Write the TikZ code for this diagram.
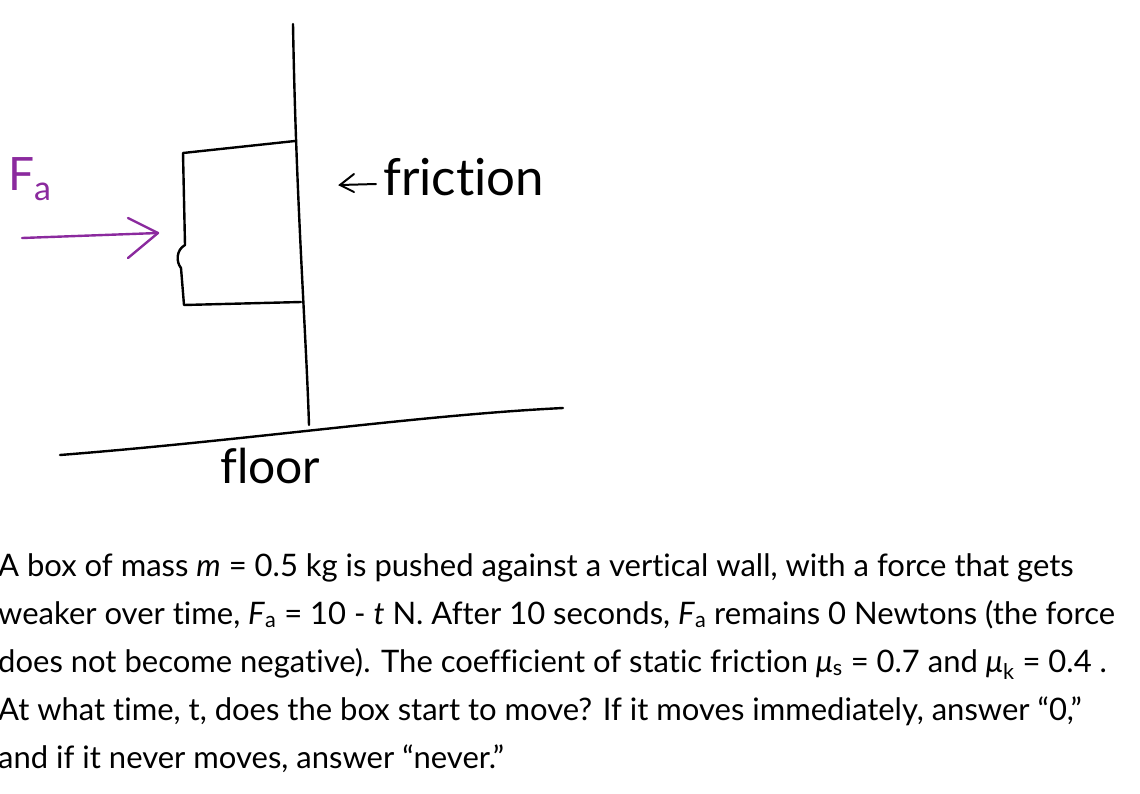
\documentclass[tikz,border=0pt]{standalone}
\usepackage{fontspec}
\setmainfont[Ligatures=CommonOff]{Lato}
\usepackage{xcolor}
\definecolor{purp}{HTML}{8B2A9E}
\begin{document}
\begin{tikzpicture}[x=1pt,y=-1pt,
  sketch/.style={line width=2.4pt,line cap=round,line join=round,black},
  hand/.style={font=\fontsize{46}{46}\selectfont,anchor=base west,inner sep=0pt},
  para/.style={font=\fontsize{31}{31}\selectfont,anchor=base west,inner sep=0pt}]
\useasboundingbox (0,0) rectangle (1140,793);
% wall and floor
\coordinate (wt) at (293,24); \coordinate (wb) at (309,425);
\draw[sketch] (wt) .. controls (296,200) and (306,330) .. (wb);
\coordinate (fl) at (60,455); \coordinate (fr) at (563,408);
\draw[sketch] (fl) .. controls (250,440) and (420,415) .. (fr);
% box
\coordinate (b1) at (183,153); \coordinate (b2) at (295,141);
\coordinate (b3) at (301,302); \coordinate (b4) at (184,305);
\draw[sketch] (b2) -- (b1) -- (185,245) .. controls (176,250) and (176,262) .. (181,268) -- (b4) -- (b3);
% applied force arrow
\coordinate (a0) at (22,238); \coordinate (a1) at (158,233);
\draw[sketch,purp] (a0) -- (a1);
\draw[sketch,purp] (128,218) -- (a1) -- (128,258);
\node[hand,text=purp] (fa) at (8,190) {F\raisebox{-10pt}{\fontsize{34}{34}\selectfont a}};
% friction label
\draw[line width=2pt,line cap=round] (354,174) -- (340,185) -- (354,192);
\draw[line width=2pt,line cap=round] (340,185) -- (376,184);
\node[hand,font=\fontsize{51}{51}\selectfont] (fric) at (383,195) {friction};
\node[hand,font=\fontsize{48}{48}\selectfont] (floor) at (220,483) {floor};
% paragraph
\node[para] (l1) at (-2,576) {A box of mass \textit{m} = 0.5 kg is pushed against a vertical wall, with a force that gets};
\node[para] (l2) at (-2,624) {weaker over time, \textit{F}\textsubscript{a} = 10 - \textit{t} N. After 10 seconds, \textit{F}\textsubscript{a} remains 0 Newtons (the force};
\node[para] (l3) at (-2,672) {does not become negative). The coefficient of static friction \textit{μ}\textsubscript{s} = 0.7 and \textit{μ}\textsubscript{k} = 0.4 .};
\node[para] (l4) at (-2,720) {At what time, t, does the box start to move? If it moves immediately, answer “0,”};
\node[para] (l5) at (-2,768) {and if it never moves, answer “never.”};
\end{tikzpicture}
\end{document}
